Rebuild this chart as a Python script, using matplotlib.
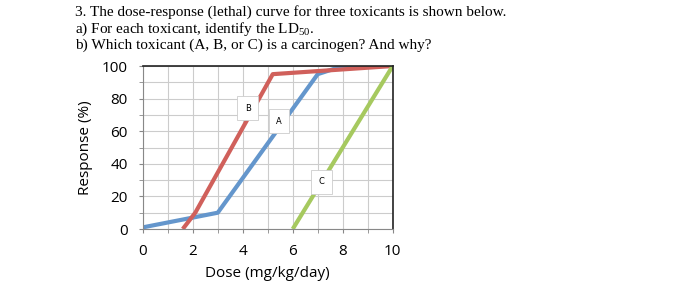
import matplotlib.pyplot as plt
from matplotlib.ticker import MultipleLocator

# Data
dose_a = [0, 3, 7, 8, 10]
resp_a = [1, 10, 95, 100, 100]
dose_b = [1.6, 2.1, 5.2, 10]
resp_b = [0, 10, 95, 100]
dose_c = [6, 10]
resp_c = [0, 100]

labels = ['B', 'A', 'C']
label_x = [4.2, 5.45, 7.15]
label_y = [74, 66, 29]

plt.rcParams['mathtext.fontset'] = 'custom'
plt.rcParams['mathtext.rm'] = 'Liberation Serif'

fig = plt.figure(figsize=(7, 2.89), dpi=100)

# question text above the chart
serif = 'Liberation Serif'
fig.text(0.107, 0.958, '3. The dose-response (lethal) curve for three toxicants is shown below.',
         family=serif, fontsize=11, va='center')
fig.text(0.107, 0.900, 'a) For each toxicant, identify the LD$\\mathregular{_{50}}$.',
         family=serif, fontsize=11, va='center')
fig.text(0.107, 0.842, 'b) Which toxicant (A, B, or C) is a carcinogen? And why?',
         family=serif, fontsize=11, va='center')

ax = fig.add_axes([0.204, 0.2076, 0.357, 0.564])
ax.plot(dose_a, resp_a, color='#6496cc', lw=3, solid_capstyle='butt')
ax.plot(dose_b, resp_b, color='#d0605b', lw=3, solid_capstyle='butt')
ax.plot(dose_c, resp_c, color='#a6c95f', lw=3, solid_capstyle='butt')

for t, x, y in zip(labels, label_x, label_y):
    ax.text(x, y, t, fontsize=6, ha='center', va='center',
            bbox=dict(boxstyle='square,pad=0.9', fc='white', ec='#cccccc', lw=0.6))

ax.set_xlim(0, 10)
ax.set_ylim(0, 100)
ax.xaxis.set_major_locator(MultipleLocator(2))
ax.xaxis.set_minor_locator(MultipleLocator(1))
ax.yaxis.set_major_locator(MultipleLocator(20))
ax.yaxis.set_minor_locator(MultipleLocator(10))
ax.grid(which='both', color='#cccccc', lw=0.8)
ax.set_axisbelow(True)

for s in ['left', 'bottom']:
    ax.spines[s].set_color('#888888')
for s in ['top', 'right']:
    ax.spines[s].set_color('#222222')
    ax.spines[s].set_linewidth(1.2)

ax.tick_params(which='both', length=3, color='#888888', labelsize=11, pad=8)
for lab in ax.get_xticklabels() + ax.get_yticklabels():
    lab.set_family('Open Sans')

ax.set_xlabel('Dose (mg/kg/day)', family='Open Sans', fontsize=11, labelpad=5)
ax.set_ylabel('Response (%)', family='Open Sans', fontsize=11, labelpad=6)

plt.savefig('out.png', dpi=100)
